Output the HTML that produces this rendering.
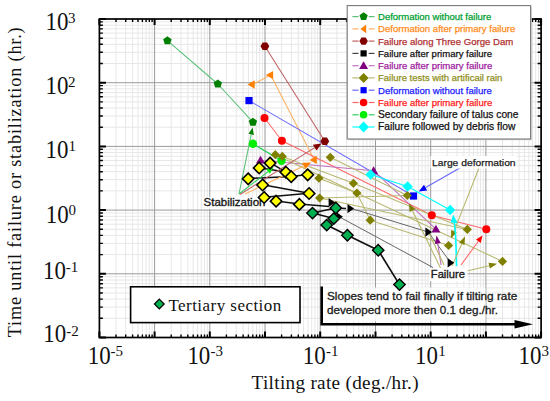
<!DOCTYPE html>
<html><head><meta charset="utf-8"><style>
html,body{margin:0;padding:0;background:#fff;overflow:hidden;}
svg{display:block;}
text{font-family:"Liberation Sans",sans-serif;}
.tl{font-family:"Liberation Serif",serif;font-size:24.5px;fill:#111;}
.sup{font-family:"Liberation Serif",serif;font-size:15px;fill:#111;}
.title{font-family:"Liberation Serif",serif;font-size:19.2px;fill:#111;}
.ytitle{font-size:18.3px;}
.leg{font-size:9.6px;stroke-width:0.25px;}
.leg2{font-size:10.2px;stroke-width:0.25px;}
.ann{font-size:10.6px;fill:#1a1a1a;stroke:#1a1a1a;stroke-width:0.35px;}
.ann2{font-size:9.9px;fill:#1a1a1a;stroke:#1a1a1a;stroke-width:0.25px;}
.tert{font-family:"Liberation Serif",serif;font-size:17px;fill:#111;}
.slp{font-size:10.9px;fill:#1a1a1a;stroke:#1a1a1a;stroke-width:0.3px;}
</style></head><body>
<svg width="550" height="401" viewBox="0 0 550 401">
<rect width="550" height="401" fill="#fff"/>
<path d="M116.0 19.0V337.5M125.7 19.0V337.5M132.6 19.0V337.5M138.0 19.0V337.5M142.4 19.0V337.5M146.1 19.0V337.5M149.3 19.0V337.5M152.1 19.0V337.5M171.2 19.0V337.5M181.0 19.0V337.5M187.8 19.0V337.5M193.2 19.0V337.5M197.6 19.0V337.5M201.3 19.0V337.5M204.5 19.0V337.5M207.3 19.0V337.5M226.4 19.0V337.5M236.2 19.0V337.5M243.1 19.0V337.5M248.4 19.0V337.5M252.8 19.0V337.5M256.5 19.0V337.5M259.7 19.0V337.5M262.5 19.0V337.5M281.6 19.0V337.5M291.4 19.0V337.5M298.3 19.0V337.5M303.6 19.0V337.5M308.0 19.0V337.5M311.7 19.0V337.5M314.9 19.0V337.5M317.7 19.0V337.5M336.9 19.0V337.5M346.6 19.0V337.5M353.5 19.0V337.5M358.8 19.0V337.5M363.2 19.0V337.5M366.9 19.0V337.5M370.1 19.0V337.5M372.9 19.0V337.5M392.1 19.0V337.5M401.8 19.0V337.5M408.7 19.0V337.5M414.0 19.0V337.5M418.4 19.0V337.5M422.1 19.0V337.5M425.3 19.0V337.5M428.1 19.0V337.5M447.3 19.0V337.5M457.0 19.0V337.5M463.9 19.0V337.5M469.3 19.0V337.5M473.6 19.0V337.5M477.3 19.0V337.5M480.5 19.0V337.5M483.3 19.0V337.5M502.5 19.0V337.5M512.2 19.0V337.5M519.1 19.0V337.5M524.5 19.0V337.5M528.8 19.0V337.5M532.5 19.0V337.5M535.7 19.0V337.5M538.6 19.0V337.5M99.4 318.3H541.1M99.4 307.1H541.1M99.4 299.1H541.1M99.4 293.0H541.1M99.4 287.9H541.1M99.4 283.7H541.1M99.4 280.0H541.1M99.4 276.7H541.1M99.4 254.6H541.1M99.4 243.4H541.1M99.4 235.4H541.1M99.4 229.3H541.1M99.4 224.2H541.1M99.4 220.0H541.1M99.4 216.3H541.1M99.4 213.0H541.1M99.4 190.9H541.1M99.4 179.7H541.1M99.4 171.7H541.1M99.4 165.6H541.1M99.4 160.5H541.1M99.4 156.3H541.1M99.4 152.6H541.1M99.4 149.3H541.1M99.4 127.2H541.1M99.4 116.0H541.1M99.4 108.0H541.1M99.4 101.9H541.1M99.4 96.8H541.1M99.4 92.6H541.1M99.4 88.9H541.1M99.4 85.6H541.1M99.4 63.5H541.1M99.4 52.3H541.1M99.4 44.3H541.1M99.4 38.2H541.1M99.4 33.1H541.1M99.4 28.9H541.1M99.4 25.2H541.1M99.4 21.9H541.1" stroke="#e7e7e7" stroke-width="1" fill="none"/>
<path d="M154.6 19.0V337.5M209.8 19.0V337.5M265.0 19.0V337.5M320.2 19.0V337.5M375.5 19.0V337.5M430.7 19.0V337.5M485.9 19.0V337.5M99.4 273.8H541.1M99.4 210.1H541.1M99.4 146.4H541.1M99.4 82.7H541.1" stroke="#9a9a9a" stroke-width="1" fill="none"/>
<path d="M116.0 337.5v-3M116.0 19.0v3M125.7 337.5v-3M125.7 19.0v3M132.6 337.5v-3M132.6 19.0v3M138.0 337.5v-3M138.0 19.0v3M142.4 337.5v-3M142.4 19.0v3M146.1 337.5v-3M146.1 19.0v3M149.3 337.5v-3M149.3 19.0v3M152.1 337.5v-3M152.1 19.0v3M171.2 337.5v-3M171.2 19.0v3M181.0 337.5v-3M181.0 19.0v3M187.8 337.5v-3M187.8 19.0v3M193.2 337.5v-3M193.2 19.0v3M197.6 337.5v-3M197.6 19.0v3M201.3 337.5v-3M201.3 19.0v3M204.5 337.5v-3M204.5 19.0v3M207.3 337.5v-3M207.3 19.0v3M226.4 337.5v-3M226.4 19.0v3M236.2 337.5v-3M236.2 19.0v3M243.1 337.5v-3M243.1 19.0v3M248.4 337.5v-3M248.4 19.0v3M252.8 337.5v-3M252.8 19.0v3M256.5 337.5v-3M256.5 19.0v3M259.7 337.5v-3M259.7 19.0v3M262.5 337.5v-3M262.5 19.0v3M281.6 337.5v-3M281.6 19.0v3M291.4 337.5v-3M291.4 19.0v3M298.3 337.5v-3M298.3 19.0v3M303.6 337.5v-3M303.6 19.0v3M308.0 337.5v-3M308.0 19.0v3M311.7 337.5v-3M311.7 19.0v3M314.9 337.5v-3M314.9 19.0v3M317.7 337.5v-3M317.7 19.0v3M336.9 337.5v-3M336.9 19.0v3M346.6 337.5v-3M346.6 19.0v3M353.5 337.5v-3M353.5 19.0v3M358.8 337.5v-3M358.8 19.0v3M363.2 337.5v-3M363.2 19.0v3M366.9 337.5v-3M366.9 19.0v3M370.1 337.5v-3M370.1 19.0v3M372.9 337.5v-3M372.9 19.0v3M392.1 337.5v-3M392.1 19.0v3M401.8 337.5v-3M401.8 19.0v3M408.7 337.5v-3M408.7 19.0v3M414.0 337.5v-3M414.0 19.0v3M418.4 337.5v-3M418.4 19.0v3M422.1 337.5v-3M422.1 19.0v3M425.3 337.5v-3M425.3 19.0v3M428.1 337.5v-3M428.1 19.0v3M447.3 337.5v-3M447.3 19.0v3M457.0 337.5v-3M457.0 19.0v3M463.9 337.5v-3M463.9 19.0v3M469.3 337.5v-3M469.3 19.0v3M473.6 337.5v-3M473.6 19.0v3M477.3 337.5v-3M477.3 19.0v3M480.5 337.5v-3M480.5 19.0v3M483.3 337.5v-3M483.3 19.0v3M502.5 337.5v-3M502.5 19.0v3M512.2 337.5v-3M512.2 19.0v3M519.1 337.5v-3M519.1 19.0v3M524.5 337.5v-3M524.5 19.0v3M528.8 337.5v-3M528.8 19.0v3M532.5 337.5v-3M532.5 19.0v3M535.7 337.5v-3M535.7 19.0v3M538.6 337.5v-3M538.6 19.0v3M99.4 318.3h3.5M541.1 318.3h-3.5M99.4 307.1h3.5M541.1 307.1h-3.5M99.4 299.1h3.5M541.1 299.1h-3.5M99.4 293.0h3.5M541.1 293.0h-3.5M99.4 287.9h3.5M541.1 287.9h-3.5M99.4 283.7h3.5M541.1 283.7h-3.5M99.4 280.0h3.5M541.1 280.0h-3.5M99.4 276.7h3.5M541.1 276.7h-3.5M99.4 254.6h3.5M541.1 254.6h-3.5M99.4 243.4h3.5M541.1 243.4h-3.5M99.4 235.4h3.5M541.1 235.4h-3.5M99.4 229.3h3.5M541.1 229.3h-3.5M99.4 224.2h3.5M541.1 224.2h-3.5M99.4 220.0h3.5M541.1 220.0h-3.5M99.4 216.3h3.5M541.1 216.3h-3.5M99.4 213.0h3.5M541.1 213.0h-3.5M99.4 190.9h3.5M541.1 190.9h-3.5M99.4 179.7h3.5M541.1 179.7h-3.5M99.4 171.7h3.5M541.1 171.7h-3.5M99.4 165.6h3.5M541.1 165.6h-3.5M99.4 160.5h3.5M541.1 160.5h-3.5M99.4 156.3h3.5M541.1 156.3h-3.5M99.4 152.6h3.5M541.1 152.6h-3.5M99.4 149.3h3.5M541.1 149.3h-3.5M99.4 127.2h3.5M541.1 127.2h-3.5M99.4 116.0h3.5M541.1 116.0h-3.5M99.4 108.0h3.5M541.1 108.0h-3.5M99.4 101.9h3.5M541.1 101.9h-3.5M99.4 96.8h3.5M541.1 96.8h-3.5M99.4 92.6h3.5M541.1 92.6h-3.5M99.4 88.9h3.5M541.1 88.9h-3.5M99.4 85.6h3.5M541.1 85.6h-3.5M99.4 63.5h3.5M541.1 63.5h-3.5M99.4 52.3h3.5M541.1 52.3h-3.5M99.4 44.3h3.5M541.1 44.3h-3.5M99.4 38.2h3.5M541.1 38.2h-3.5M99.4 33.1h3.5M541.1 33.1h-3.5M99.4 28.9h3.5M541.1 28.9h-3.5M99.4 25.2h3.5M541.1 25.2h-3.5M99.4 21.9h3.5M541.1 21.9h-3.5" stroke="#000" stroke-width="1.4" fill="none"/>
<path d="M99.4 337.5v-6M99.4 19.0v6M154.6 337.5v-6M154.6 19.0v6M209.8 337.5v-6M209.8 19.0v6M265.0 337.5v-6M265.0 19.0v6M320.2 337.5v-6M320.2 19.0v6M375.5 337.5v-6M375.5 19.0v6M430.7 337.5v-6M430.7 19.0v6M485.9 337.5v-6M485.9 19.0v6M541.1 337.5v-6M541.1 19.0v6M99.4 337.5h6.5M541.1 337.5h-6.5M99.4 273.8h6.5M541.1 273.8h-6.5M99.4 210.1h6.5M541.1 210.1h-6.5M99.4 146.4h6.5M541.1 146.4h-6.5M99.4 82.7h6.5M541.1 82.7h-6.5M99.4 19.0h6.5M541.1 19.0h-6.5" stroke="#000" stroke-width="2" fill="none"/>
<path d="M167.4 40.6L217.8 84.0L252.9 122.1" stroke="#5cc07a" stroke-width="1.05" fill="none" stroke-linejoin="round"/>
<path d="M252.3 84.5L270.7 75.1L314.4 159.9" stroke="#ffb060" stroke-width="1.05" fill="none" stroke-linejoin="round"/>
<path d="M264.9 46.2L324.8 141.2" stroke="#c06060" stroke-width="1.05" fill="none" stroke-linejoin="round"/>
<path d="M249.0 100.6L413.5 196.0" stroke="#6868ff" stroke-width="1.05" fill="none" stroke-linejoin="round"/>
<path d="M264.5 118.0L281.9 140.8L431.8 215.2L486.3 229.3" stroke="#ff6868" stroke-width="1.05" fill="none" stroke-linejoin="round"/>
<path d="M252.9 143.8L281.5 160.7" stroke="#30d060" stroke-width="1.4" fill="none" stroke-linejoin="round"/>
<path d="M260.5 160.2L373.6 170.7L435.9 229.1" stroke="#c070c0" stroke-width="1.05" fill="none" stroke-linejoin="round"/>
<path d="M370.6 174.5L407.6 186.5L450.1 210" stroke="#00ffff" stroke-width="1.3" fill="none"/>
<path d="M282.3 156.4L353.4 183.3L467.3 229.4" stroke="#b8b870" stroke-width="1.05" fill="none" stroke-linejoin="round"/>
<path d="M330.3 157.3L407.3 195.5" stroke="#b8b870" stroke-width="1.05" fill="none" stroke-linejoin="round"/>
<path d="M318.9 178.2L356.9 193.0L370.2 220.2L448.6 245.5" stroke="#b8b870" stroke-width="1.05" fill="none" stroke-linejoin="round"/>
<path d="M319.6 198.0L407.3 195.5" stroke="#b8b870" stroke-width="1.05" fill="none" stroke-linejoin="round"/>
<path d="M275.3 154.7L356.9 193.0" stroke="#b8b870" stroke-width="1.05" fill="none" stroke-linejoin="round"/>
<path d="M356.9 193.0L502.5 261.4" stroke="#b8b870" stroke-width="1.05" fill="none" stroke-linejoin="round"/>
<path d="M319.6 198.0L467.3 229.4" stroke="#b8b870" stroke-width="1.05" fill="none" stroke-linejoin="round"/>
<path d="M350.2 208.1L428.4 232.1L450.7 262.8" stroke="#666" stroke-width="1.0" fill="none" stroke-linejoin="round"/>
<path d="M339.0 216.7L433.0 267.5" stroke="#666" stroke-width="1.0" fill="none" stroke-linejoin="round"/>
<path d="M259.2 167.7L285.9 171.9" stroke="#111" stroke-width="1.5" fill="none" stroke-linejoin="round"/>
<path d="M270.1 162.8L285.9 171.9" stroke="#111" stroke-width="1.5" fill="none" stroke-linejoin="round"/>
<path d="M248.2 178.5L291.2 176.4L307.7 174.5" stroke="#111" stroke-width="1.5" fill="none" stroke-linejoin="round"/>
<path d="M262.6 184.7L309.1 193.2" stroke="#111" stroke-width="1.5" fill="none" stroke-linejoin="round"/>
<path d="M264.1 197.2L309.1 193.2" stroke="#111" stroke-width="1.5" fill="none" stroke-linejoin="round"/>
<path d="M276.1 200.9L299.4 204.1L329.0 206.5" stroke="#111" stroke-width="1.5" fill="none" stroke-linejoin="round"/>
<path d="M312.5 213.1L335.8 208.0" stroke="#111" stroke-width="1.5" fill="none" stroke-linejoin="round"/>
<path d="M312.5 213.1L333.8 218.6" stroke="#111" stroke-width="1.5" fill="none" stroke-linejoin="round"/>
<path d="M335.8 208.0L346.0 208.4" stroke="#111" stroke-width="1.5" fill="none" stroke-linejoin="round"/>
<path d="M333.8 218.6L337.0 217.0" stroke="#111" stroke-width="1.5" fill="none" stroke-linejoin="round"/>
<path d="M326.7 225.1L347.4 235.3L378.2 250.2L399.5 284.6" stroke="#111" stroke-width="1.7" fill="none" stroke-linejoin="round"/>
<path d="M239.0 194.0L251.2 134.4" stroke="#5cc07a" stroke-width="1.1" fill="none" stroke-linejoin="round"/><polygon points="252.6,127.5 253.9,134.9 248.5,133.8" fill="#008000"/>
<path d="M239.0 194.0L268.1 171.6" stroke="#30d060" stroke-width="1.1" fill="none" stroke-linejoin="round"/><polygon points="273.6,167.3 269.8,173.8 266.3,169.4" fill="#00ee00"/>
<path d="M240.0 194.5L314.7 147.6" stroke="#c06060" stroke-width="1.1" fill="none" stroke-linejoin="round"/><polygon points="321.5,143.4 316.6,150.6 312.9,144.7" fill="#800000"/>
<path d="M245.0 194.0L303.8 165.9" stroke="#ffb060" stroke-width="1.1" fill="none" stroke-linejoin="round"/><polygon points="311.0,162.4 305.3,169.0 302.3,162.7" fill="#ff8000"/>
<path d="M460.7 167.4L425.6 187.6" stroke="#6868ff" stroke-width="1.1" fill="none" stroke-linejoin="round"/><polygon points="418.7,191.6 424.0,184.8 427.2,190.4" fill="#0000ff"/>
<path d="M479.0 168.0L454.0 231.1" stroke="#b8b870" stroke-width="1.1" fill="none" stroke-linejoin="round"/><polygon points="451.0,238.5 451.2,230.0 456.7,232.2" fill="#808000"/>
<path d="M441.0 265.0L437.8 243.4" stroke="#c070c0" stroke-width="1.1" fill="none" stroke-linejoin="round"/><polygon points="436.6,235.5 440.7,243.0 434.8,243.9" fill="#800080"/>
<path d="M440.5 268.0L412.5 210.7" stroke="#b8b870" stroke-width="1.1" fill="none" stroke-linejoin="round"/><polygon points="409.0,203.5 415.4,209.3 409.6,212.1" fill="#808000"/>
<path d="M456.5 266C456 245 456 228 453.8 221" stroke="#00ffff" stroke-width="1.6" fill="none"/>
<polygon points="453.2,214.5 457.6,223 450.6,222.5" fill="#00ffff"/>
<path d="M452.0 266.0L461.8 243.8" stroke="#b8b870" stroke-width="1.1" fill="none" stroke-linejoin="round"/><polygon points="465.0,236.5 464.5,245.0 459.0,242.6" fill="#808000"/>
<path d="M461.0 265.0L478.4 241.2" stroke="#ff6868" stroke-width="1.1" fill="none" stroke-linejoin="round"/><polygon points="482.5,235.5 480.8,242.9 476.0,239.4" fill="#ff0000"/>
<path d="M467.0 271.0L489.2 265.7" stroke="#b8b870" stroke-width="1.1" fill="none" stroke-linejoin="round"/><polygon points="497.0,263.8 489.9,268.6 488.5,262.7" fill="#808000"/>
<path d="M444.0 265.0L428.4 232.1" stroke="#b8b870" stroke-width="1.2" fill="none" stroke-linejoin="round"/>
<rect x="322.5" y="287.5" width="163" height="34" fill="#fff" fill-opacity="0.85"/>
<rect x="202.5" y="197.0" width="64" height="12" fill="#fff"/>
<rect x="430.5" y="156.0" width="86.5" height="12.5" fill="#fff"/>
<rect x="429.5" y="268.0" width="38" height="13" fill="#fff"/>
<text x="203.6" y="206.4" class="ann" textLength="61.8" lengthAdjust="spacingAndGlyphs">Stabilization</text>
<text x="432.0" y="165.8" class="ann2" textLength="83.6" lengthAdjust="spacingAndGlyphs">Large deformation</text>
<text x="430.8" y="278.0" class="ann" textLength="34.2" lengthAdjust="spacingAndGlyphs">Failure</text>
<polygon points="167.4,36.2 171.6,39.2 170.0,44.2 164.8,44.2 163.2,39.2" fill="#008000"/>
<polygon points="217.8,79.6 222.0,82.6 220.4,87.6 215.2,87.6 213.6,82.6" fill="#008000"/>
<polygon points="252.9,117.7 257.1,120.7 255.5,125.7 250.3,125.7 248.7,120.7" fill="#008000"/>
<polygon points="247.5,84.5 254.7,80.3 254.7,88.7" fill="#ff8000"/>
<polygon points="265.9,75.1 273.1,70.9 273.1,79.3" fill="#ff8000"/>
<polygon points="309.6,159.9 316.8,155.7 316.8,164.1" fill="#ff8000"/>
<polygon points="269.3,46.2 267.1,50.0 262.7,50.0 260.5,46.2 262.7,42.4 267.1,42.4" fill="#800000"/>
<polygon points="329.2,141.2 327.0,145.0 322.6,145.0 320.4,141.2 322.6,137.4 327.0,137.4" fill="#800000"/>
<rect x="245.4" y="97.0" width="7.2" height="7.2" fill="#0000ff"/>
<rect x="409.9" y="192.4" width="7.2" height="7.2" fill="#0000ff"/>
<circle cx="264.5" cy="118.0" r="4.0" fill="#ff0000"/>
<circle cx="281.9" cy="140.8" r="4.0" fill="#ff0000"/>
<circle cx="431.8" cy="215.2" r="4.0" fill="#ff0000"/>
<circle cx="486.3" cy="229.3" r="4.0" fill="#ff0000"/>
<circle cx="252.9" cy="143.8" r="4.2" fill="#00ee00"/>
<circle cx="281.5" cy="160.7" r="4.2" fill="#00ee00"/>
<polygon points="260.5,155.8 265.0,163.6 256.0,163.6" fill="#800080"/>
<polygon points="373.6,166.3 378.1,174.1 369.1,174.1" fill="#800080"/>
<polygon points="435.9,224.7 440.4,232.5 431.4,232.5" fill="#800080"/>
<path d="M275.3 150.1L279.9 154.7L275.3 159.3L270.7 154.7Z" fill="#808000" stroke="none" stroke-width="0"/>
<path d="M282.3 151.8L286.9 156.4L282.3 161.0L277.7 156.4Z" fill="#808000" stroke="none" stroke-width="0"/>
<path d="M330.3 152.7L334.9 157.3L330.3 161.9L325.7 157.3Z" fill="#808000" stroke="none" stroke-width="0"/>
<path d="M318.9 173.6L323.5 178.2L318.9 182.8L314.3 178.2Z" fill="#808000" stroke="none" stroke-width="0"/>
<path d="M319.6 193.4L324.2 198.0L319.6 202.6L315.0 198.0Z" fill="#808000" stroke="none" stroke-width="0"/>
<path d="M353.4 178.7L358.0 183.3L353.4 187.9L348.8 183.3Z" fill="#808000" stroke="none" stroke-width="0"/>
<path d="M356.9 188.4L361.5 193.0L356.9 197.6L352.3 193.0Z" fill="#808000" stroke="none" stroke-width="0"/>
<path d="M370.2 215.6L374.8 220.2L370.2 224.8L365.6 220.2Z" fill="#808000" stroke="none" stroke-width="0"/>
<path d="M407.3 190.9L411.9 195.5L407.3 200.1L402.7 195.5Z" fill="#808000" stroke="none" stroke-width="0"/>
<path d="M448.6 240.9L453.2 245.5L448.6 250.1L444.0 245.5Z" fill="#808000" stroke="none" stroke-width="0"/>
<path d="M467.3 224.8L471.9 229.4L467.3 234.0L462.7 229.4Z" fill="#808000" stroke="none" stroke-width="0"/>
<path d="M502.5 256.8L507.1 261.4L502.5 266.0L497.9 261.4Z" fill="#808000" stroke="none" stroke-width="0"/>
<path d="M370.6 169.3L375.8 174.5L370.6 179.7L365.4 174.5Z" fill="#00ffff" stroke="none" stroke-width="0"/>
<path d="M407.6 181.3L412.8 186.5L407.6 191.7L402.4 186.5Z" fill="#00ffff" stroke="none" stroke-width="0"/>
<path d="M450.1 204.8L455.3 210.0L450.1 215.2L444.9 210.0Z" fill="#00ffff" stroke="none" stroke-width="0"/>
<polygon points="335.2,202.5 328.6,197.9 328.6,207.1" fill="#000"/>
<polygon points="354.1,208.6 347.5,204.0 347.5,213.2" fill="#000"/>
<polygon points="342.9,216.7 336.3,212.1 336.3,221.3" fill="#000"/>
<polygon points="432.0,232.1 425.4,227.5 425.4,236.7" fill="#000"/>
<polygon points="454.3,262.8 447.7,258.2 447.7,267.4" fill="#000"/>
<path d="M259.2 162.3L264.9 168.0L259.2 173.7L253.5 168.0Z" fill="#ffff00" stroke="#000" stroke-width="1.6"/>
<path d="M270.1 157.4L275.8 163.1L270.1 168.8L264.4 163.1Z" fill="#ffff00" stroke="#000" stroke-width="1.6"/>
<path d="M248.2 173.1L253.9 178.8L248.2 184.5L242.5 178.8Z" fill="#ffff00" stroke="#000" stroke-width="1.6"/>
<path d="M262.6 179.3L268.3 185.0L262.6 190.7L256.9 185.0Z" fill="#ffff00" stroke="#000" stroke-width="1.6"/>
<path d="M285.9 166.5L291.6 172.2L285.9 177.9L280.2 172.2Z" fill="#ffff00" stroke="#000" stroke-width="1.6"/>
<path d="M291.2 171.0L296.9 176.7L291.2 182.4L285.5 176.7Z" fill="#ffff00" stroke="#000" stroke-width="1.6"/>
<path d="M307.7 169.1L313.4 174.8L307.7 180.5L302.0 174.8Z" fill="#ffff00" stroke="#000" stroke-width="1.6"/>
<path d="M264.1 191.8L269.8 197.5L264.1 203.2L258.4 197.5Z" fill="#ffff00" stroke="#000" stroke-width="1.6"/>
<path d="M276.1 195.5L281.8 201.2L276.1 206.9L270.4 201.2Z" fill="#ffff00" stroke="#000" stroke-width="1.6"/>
<path d="M299.4 198.7L305.1 204.4L299.4 210.1L293.7 204.4Z" fill="#ffff00" stroke="#000" stroke-width="1.6"/>
<path d="M309.1 187.8L314.8 193.5L309.1 199.2L303.4 193.5Z" fill="#ffff00" stroke="#000" stroke-width="1.6"/>
<path d="M312.5 207.4L318.2 213.1L312.5 218.8L306.8 213.1Z" fill="#00b050" stroke="#000" stroke-width="1.4"/>
<path d="M335.8 202.3L341.5 208.0L335.8 213.7L330.1 208.0Z" fill="#00b050" stroke="#000" stroke-width="1.4"/>
<path d="M333.8 212.9L339.5 218.6L333.8 224.3L328.1 218.6Z" fill="#00b050" stroke="#000" stroke-width="1.4"/>
<path d="M326.7 219.4L332.4 225.1L326.7 230.8L321.0 225.1Z" fill="#00b050" stroke="#000" stroke-width="1.4"/>
<path d="M347.4 229.6L353.1 235.3L347.4 241.0L341.7 235.3Z" fill="#00b050" stroke="#000" stroke-width="1.4"/>
<path d="M378.2 244.5L383.9 250.2L378.2 255.9L372.5 250.2Z" fill="#00b050" stroke="#000" stroke-width="1.4"/>
<path d="M399.5 278.9L405.2 284.6L399.5 290.3L393.8 284.6Z" fill="#00b050" stroke="#000" stroke-width="1.4"/>
<rect x="99.4" y="19.0" width="441.7" height="318.5" fill="none" stroke="#000" stroke-width="1.7"/>
<text x="45.5" y="30.1" class="tl" textLength="22.9" lengthAdjust="spacingAndGlyphs">10</text><text x="68.1" y="22.7" class="sup">3</text>
<text x="45.5" y="93.7" class="tl" textLength="22.9" lengthAdjust="spacingAndGlyphs">10</text><text x="68.1" y="86.5" class="sup">2</text>
<text x="45.5" y="157.7" class="tl" textLength="22.9" lengthAdjust="spacingAndGlyphs">10</text><text x="68.5" y="150.6" class="sup">1</text>
<text x="45.7" y="222.7" class="tl" textLength="22.9" lengthAdjust="spacingAndGlyphs">10</text><text x="68.4" y="215.1" class="sup">0</text>
<text x="43.0" y="279.3" class="tl" textLength="22.9" lengthAdjust="spacingAndGlyphs">10</text><text x="65.7" y="272.1" class="sup">-1</text>
<text x="43.3" y="342.2" class="tl" textLength="22.9" lengthAdjust="spacingAndGlyphs">10</text><text x="66.2" y="335.6" class="sup">-2</text>
<text x="87.7" y="363.7" class="tl" textLength="22.9" lengthAdjust="spacingAndGlyphs">10</text><text x="110.6" y="356.2" class="sup">-5</text>
<text x="187.4" y="363.7" class="tl" textLength="22.9" lengthAdjust="spacingAndGlyphs">10</text><text x="210.6" y="356.2" class="sup">-3</text>
<text x="302.8" y="363.7" class="tl" textLength="22.9" lengthAdjust="spacingAndGlyphs">10</text><text x="326.0" y="356.2" class="sup">-1</text>
<text x="415.0" y="363.7" class="tl" textLength="22.9" lengthAdjust="spacingAndGlyphs">10</text><text x="438.3" y="356.2" class="sup">1</text>
<text x="518.6" y="363.7" class="tl" textLength="22.9" lengthAdjust="spacingAndGlyphs">10</text><text x="541.4" y="356.2" class="sup">3</text>
<text x="251.6" y="389.3" class="title" textLength="167" lengthAdjust="spacing">Tilting rate (deg./hr.)</text>
<text transform="translate(20.9,337.3) rotate(-90)" class="title ytitle" style="white-space:pre" textLength="310" lengthAdjust="spacing">Time until failure or stabilization (hr.)</text>
<rect x="130.6" y="286.8" width="169.4" height="35.8" fill="#fff" stroke="#000" stroke-width="1.6"/>
<path d="M159.3 299.1L164.2 304.0L159.3 308.9L154.4 304.0Z" fill="#00b050" stroke="#000" stroke-width="1.2"/>
<text x="168.4" y="310.5" class="tert" textLength="112.8" lengthAdjust="spacing">Tertiary section</text>
<path d="M321.7 286.5V324.2H515" stroke="#000" stroke-width="2.6" fill="none"/>
<polygon points="533,324.2 514.5,319.9 514.5,328.5" fill="#000"/>
<text x="327.0" y="300.2" class="slp" textLength="190.2" lengthAdjust="spacingAndGlyphs">Slopes tend to fail finally if tilting rate</text>
<text x="327.0" y="313.8" class="slp" textLength="171" lengthAdjust="spacingAndGlyphs">developed more then 0.1 deg./hr.</text>
<rect x="348.4" y="6.8" width="183.4" height="133.4" fill="#d0d0d0"/>
<rect x="347.2" y="5.6" width="183.4" height="133.4" fill="#fff" stroke="#7a7a7a" stroke-width="1.1"/>
<path d="M352.4 16.6L358.5 16.6" stroke="#5cc07a" stroke-width="1.2" fill="none" stroke-linejoin="round"/>
<path d="M368.7 16.6L374.5 16.6" stroke="#5cc07a" stroke-width="1.2" fill="none" stroke-linejoin="round"/>
<polygon points="363.6,12.3 367.7,15.3 366.1,20.1 361.1,20.1 359.5,15.3" fill="#008000"/>
<text x="378.0" y="20.0" fill="#00a030" stroke="#00a030" class="leg" textLength="113.3" lengthAdjust="spacingAndGlyphs">Deformation without failure</text>
<path d="M352.4 28.9L358.5 28.9" stroke="#ffb060" stroke-width="1.2" fill="none" stroke-linejoin="round"/>
<path d="M368.7 28.9L374.5 28.9" stroke="#ffb060" stroke-width="1.2" fill="none" stroke-linejoin="round"/>
<polygon points="360.4,28.9 366.2,24.5 366.2,33.3" fill="#ff8000"/>
<text x="378.0" y="32.3" fill="#ff8c1a" stroke="#ff8c1a" class="leg" textLength="137.3" lengthAdjust="spacingAndGlyphs">Deformation after primary failure</text>
<path d="M352.4 41.1L358.5 41.1" stroke="#c06060" stroke-width="1.2" fill="none" stroke-linejoin="round"/>
<path d="M368.7 41.1L374.5 41.1" stroke="#c06060" stroke-width="1.2" fill="none" stroke-linejoin="round"/>
<polygon points="367.8,41.1 365.7,44.8 361.5,44.8 359.4,41.1 361.5,37.5 365.7,37.5" fill="#800000"/>
<text x="378.0" y="44.5" fill="#b03030" stroke="#b03030" class="leg" textLength="135.3" lengthAdjust="spacingAndGlyphs">Failure along Three Gorge Dam</text>
<path d="M352.4 53.4L358.5 53.4" stroke="#444" stroke-width="1.2" fill="none" stroke-linejoin="round"/>
<path d="M368.7 53.4L374.5 53.4" stroke="#444" stroke-width="1.2" fill="none" stroke-linejoin="round"/>
<rect x="360.5" y="50.3" width="6.2" height="6.2" fill="#000"/>
<text x="378.0" y="56.8" fill="#111" stroke="#111" class="leg" textLength="114.1" lengthAdjust="spacingAndGlyphs">Failure after primary failure</text>
<path d="M352.4 65.7L358.5 65.7" stroke="#c070c0" stroke-width="1.2" fill="none" stroke-linejoin="round"/>
<path d="M368.7 65.7L374.5 65.7" stroke="#c070c0" stroke-width="1.2" fill="none" stroke-linejoin="round"/>
<polygon points="363.6,61.3 368.1,69.1 359.1,69.1" fill="#800080"/>
<text x="378.0" y="69.1" fill="#a020a0" stroke="#a020a0" class="leg" textLength="114.3" lengthAdjust="spacingAndGlyphs">Failure after primary failure</text>
<path d="M352.4 77.9L358.5 77.9" stroke="#b8b870" stroke-width="1.2" fill="none" stroke-linejoin="round"/>
<path d="M368.7 77.9L374.5 77.9" stroke="#b8b870" stroke-width="1.2" fill="none" stroke-linejoin="round"/>
<path d="M363.6 72.9L368.6 77.9L363.6 82.9L358.6 77.9Z" fill="#808000" stroke="none" stroke-width="0"/>
<text x="378.0" y="81.3" fill="#8f8f20" stroke="#8f8f20" class="leg" textLength="124.3" lengthAdjust="spacingAndGlyphs">Failure tests with artificail rain</text>
<path d="M352.4 90.2L358.5 90.2" stroke="#6868ff" stroke-width="1.2" fill="none" stroke-linejoin="round"/>
<path d="M368.7 90.2L374.5 90.2" stroke="#6868ff" stroke-width="1.2" fill="none" stroke-linejoin="round"/>
<rect x="360.5" y="87.1" width="6.2" height="6.2" fill="#0000ff"/>
<text x="378.0" y="93.6" fill="#1a1aff" stroke="#1a1aff" class="leg" textLength="113.8" lengthAdjust="spacingAndGlyphs">Deformation without failure</text>
<path d="M352.4 102.5L358.5 102.5" stroke="#ff6868" stroke-width="1.2" fill="none" stroke-linejoin="round"/>
<path d="M368.7 102.5L374.5 102.5" stroke="#ff6868" stroke-width="1.2" fill="none" stroke-linejoin="round"/>
<circle cx="363.6" cy="102.5" r="3.8" fill="#ff0000"/>
<text x="378.0" y="105.9" fill="#ff2020" stroke="#ff2020" class="leg" textLength="114.3" lengthAdjust="spacingAndGlyphs">Failure after primary failure</text>
<path d="M352.4 114.8L358.5 114.8" stroke="#30d060" stroke-width="1.2" fill="none" stroke-linejoin="round"/>
<path d="M368.7 114.8L374.5 114.8" stroke="#30d060" stroke-width="1.2" fill="none" stroke-linejoin="round"/>
<circle cx="363.6" cy="114.8" r="3.8" fill="#00ee00"/>
<text x="378.0" y="118.2" fill="#111" stroke="#111" class="leg2" textLength="140.5" lengthAdjust="spacingAndGlyphs">Secondary failure of talus cone</text>
<path d="M352.4 127.0L358.5 127.0" stroke="#00ffff" stroke-width="1.2" fill="none" stroke-linejoin="round"/>
<path d="M368.7 127.0L374.5 127.0" stroke="#00ffff" stroke-width="1.2" fill="none" stroke-linejoin="round"/>
<path d="M363.6 121.6L369.0 127.0L363.6 132.4L358.2 127.0Z" fill="#00ffff" stroke="none" stroke-width="0"/>
<text x="378.0" y="130.4" fill="#111" stroke="#111" class="leg2" textLength="137.3" lengthAdjust="spacingAndGlyphs">Failure followed by debris flow</text>
</svg>
</body></html>
